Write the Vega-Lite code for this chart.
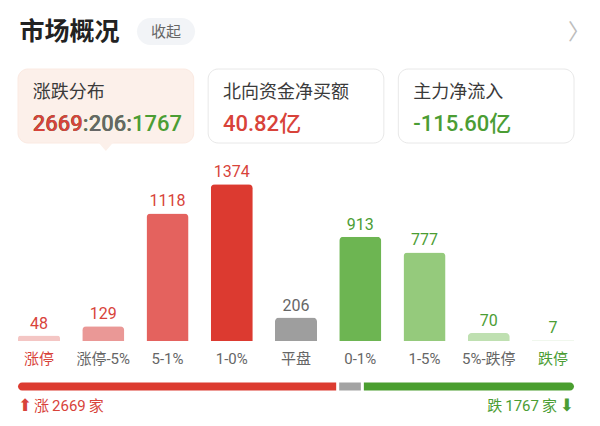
{
  "$schema": "https://vega.github.io/schema/vega-lite/v6.json",
  "background": "white",
  "padding": {"left": 17, "top": 18, "right": 17, "bottom": 4},
  "config": {
    "view": {"stroke": null},
    "font": "Roboto, 'Noto Sans CJK SC', sans-serif"
  },
  "datasets": {
    "dist": [
      {"range": "涨停", "count": 48, "side": "涨"},
      {"range": "涨停-5%", "count": 129, "side": "涨"},
      {"range": "5-1%", "count": 1118, "side": "涨"},
      {"range": "1-0%", "count": 1374, "side": "涨"},
      {"range": "平盘", "count": 206, "side": "平"},
      {"range": "0-1%", "count": 913, "side": "跌"},
      {"range": "1-5%", "count": 777, "side": "跌"},
      {"range": "5%-跌停", "count": 70, "side": "跌"},
      {"range": "跌停", "count": 7, "side": "跌"}
    ],
    "cards": [
      {"card": "涨跌分布"},
      {"card": "北向资金净买额"},
      {"card": "主力净流入"}
    ],
    "cardValues": [
      {"card": "涨跌分布", "text": "2669:206:1767", "sign": "跌"},
      {"card": "涨跌分布", "text": "2669:206:", "sign": "平"},
      {"card": "涨跌分布", "text": "2669", "sign": "涨"},
      {"card": "北向资金净买额", "text": "40.82亿", "sign": "涨"},
      {"card": "主力净流入", "text": "-115.60亿", "sign": "跌"}
    ],
    "summary": [
      {"side": "涨", "count": 2669, "rank": 1, "label": "涨\u20092669\u2009家", "arrow": "⬆"},
      {"side": "平", "count": 206, "rank": 2, "label": "平盘\u2009206\u2009家", "arrow": ""},
      {"side": "跌", "count": 1767, "rank": 3, "label": "跌\u20091767\u2009家", "arrow": "⬇"}
    ]
  },
  "resolve": {"scale": {"color": "independent", "fill": "independent", "stroke": "independent"}},
  "vconcat": [
    {
      "resolve": {"scale": {"color": "independent", "fill": "independent", "stroke": "independent"}},
      "vconcat": [
        {
          "hconcat": [
            {
              "hconcat": [
                {
                  "width": 103,
                  "height": 27,
                  "data": {"values": [{"t": "市场概况"}]},
                  "mark": {"type": "text", "fontSize": 25, "fontWeight": "bold", "color": "#222222", "baseline": "middle"},
                  "encoding": {"text": {"field": "t"}}
                },
                {
                  "width": 58,
                  "height": 27,
                  "view": {"fill": "#f2f4f7", "cornerRadius": 13.5, "stroke": null},
                  "data": {"values": [{"t": "收起"}]},
                  "mark": {"type": "text", "fontSize": 15, "color": "#666666", "baseline": "middle"},
                  "encoding": {"text": {"field": "t"}}
                }
              ],
              "spacing": 16
            },
            {
              "width": 20,
              "height": 27,
              "data": {"values": [{"t": "〉"}]},
              "mark": {"type": "text", "fontSize": 22, "color": "#bdbdbd", "baseline": "middle", "dx": 5},
              "encoding": {"text": {"field": "t"}}
            }
          ],
          "spacing": 369
        },
        {
          "width": 556,
          "height": 74,
          "layer": [
            {
              "data": {"name": "cards"},
              "mark": {"type": "bar", "cornerRadius": 10, "strokeWidth": 1},
              "encoding": {
                "x": {"field": "card", "type": "nominal", "sort": null, "scale": {"paddingInner": 0.076, "paddingOuter": 0}, "axis": null},
                "fill": {"field": "card", "type": "nominal", "sort": null, "scale": {"domain": ["涨跌分布", "北向资金净买额", "主力净流入"], "range": ["#fcf0ea", "#ffffff", "#ffffff"]}, "legend": null},
                "stroke": {"field": "card", "type": "nominal", "sort": null, "scale": {"domain": ["涨跌分布", "北向资金净买额", "主力净流入"], "range": ["#fbeae2", "#e8e8e8", "#e8e8e8"]}, "legend": null}
              }
            },
            {
              "data": {"name": "cards"},
              "transform": [{"filter": "datum.card === '涨跌分布'"}],
              "mark": {"type": "point", "shape": "M-1,-0.15L1,-0.15L0,1Z", "size": 256, "filled": true, "opacity": 1, "strokeWidth": 0, "y": "height"},
              "encoding": {
                "x": {"field": "card", "type": "nominal", "sort": null},
                "fill": {"field": "card", "type": "nominal", "sort": null}
              }
            },
            {
              "data": {"name": "cards"},
              "mark": {"type": "text", "align": "left", "baseline": "middle", "dx": -73, "dy": 2.5, "fontSize": 18, "color": "#3a3a3a"},
              "encoding": {
                "x": {"field": "card", "type": "nominal", "sort": null},
                "y": {"datum": "label", "type": "nominal", "scale": {"type": "point", "domain": ["label", "value"], "padding": 0.7}, "axis": null},
                "text": {"field": "card"}
              }
            },
            {
              "data": {"name": "cardValues"},
              "mark": {"type": "text", "align": "left", "baseline": "middle", "dx": -73, "dy": 2.5, "fontSize": 22, "fontWeight": 500},
              "encoding": {
                "x": {"field": "card", "type": "nominal", "sort": null},
                "y": {"datum": "value", "type": "nominal"},
                "text": {"field": "text"},
                "color": {"field": "sign", "type": "nominal", "scale": {"domain": ["涨", "平", "跌"], "range": ["#d8433a", "#666666", "#4b9d34"]}, "legend": null}
              }
            }
          ]
        }
      ],
      "spacing": 23
    },
    {
      "resolve": {"scale": {"color": "independent", "fill": "independent", "stroke": "independent"}},
      "vconcat": [
        {
          "width": 556,
          "height": 185,
          "data": {"name": "dist"},
          "encoding": {
            "x": {
              "field": "range",
              "type": "nominal",
              "sort": null,
              "scale": {"paddingInner": 0.346, "paddingOuter": 0},
              "axis": {
                "title": null,
                "domain": false,
                "ticks": false,
                "tickSize": 0,
                "grid": false,
                "labelAngle": 0,
                "labelPadding": 10,
                "labelFontSize": 15,
                "labelColor": {"expr": "datum.value === '涨停' ? '#d8433a' : datum.value === '跌停' ? '#4b9d34' : '#666666'"}
              }
            }
          },
          "layer": [
            {
              "mark": {"type": "bar", "cornerRadiusTopLeft": 4, "cornerRadiusTopRight": 4},
              "encoding": {
                "y": {"field": "count", "type": "quantitative", "scale": {"domain": [0, 1622], "nice": false}, "axis": null},
                "color": {
                  "field": "range",
                  "type": "nominal",
                  "sort": null,
                  "scale": {
                    "domain": ["涨停", "涨停-5%", "5-1%", "1-0%", "平盘", "0-1%", "1-5%", "5%-跌停", "跌停"],
                    "range": ["#f4c6c4", "#ea9896", "#e4625e", "#dc3a30", "#9e9e9e", "#6db552", "#95ca7c", "#bfe0b1", "#dcecd4"]
                  },
                  "legend": null
                }
              }
            },
            {
              "mark": {"type": "text", "baseline": "alphabetic", "dy": -7, "fontSize": 16},
              "encoding": {
                "y": {"field": "count", "type": "quantitative"},
                "text": {"field": "count", "type": "quantitative"},
                "color": {"field": "side", "type": "nominal", "scale": {"domain": ["涨", "平", "跌"], "range": ["#d8433a", "#666666", "#4b9d34"]}, "legend": null}
              }
            }
          ],
          "resolve": {"scale": {"color": "independent"}}
        },
        {
          "width": 556,
          "height": 8,
          "data": {"name": "summary"},
          "transform": [
            {"stack": "count", "groupby": [], "sort": [{"field": "rank", "order": "ascending"}], "as": ["c0", "c1"]}
          ],
          "layer": [
            {
              "mark": {
                "type": "bar",
                "xOffset": {"expr": "datum.side === '涨' ? 0 : 1.5"},
                "x2Offset": {"expr": "datum.side === '跌' ? 0 : -1.5"},
                "cornerRadiusTopLeft": {"expr": "datum.side === '涨' ? 4 : 0"},
                "cornerRadiusBottomLeft": {"expr": "datum.side === '涨' ? 4 : 0"},
                "cornerRadiusTopRight": {"expr": "datum.side === '跌' ? 4 : 0"},
                "cornerRadiusBottomRight": {"expr": "datum.side === '跌' ? 4 : 0"}
              },
              "encoding": {
                "x": {"field": "c0", "type": "quantitative", "scale": {"domain": [0, 4642], "nice": false, "zero": false}, "axis": null},
                "x2": {"field": "c1"},
                "y": {"datum": "bar", "type": "nominal", "scale": {"type": "band", "paddingInner": 0, "paddingOuter": 0}, "axis": null},
                "fill": {"field": "side", "type": "nominal", "scale": {"domain": ["涨", "平", "跌"], "range": ["#dc3b30", "#a3a3a3", "#4a9e2f"]}, "legend": null}
              }
            },
            {
              "transform": [{"filter": "datum.side === '涨'"}],
              "mark": {"type": "text", "align": "left", "baseline": "middle", "y": "height", "dy": 15.5, "dx": 0, "fontSize": 17, "font": "DejaVu Sans"},
              "encoding": {
                "x": {"field": "c0", "type": "quantitative"},
                "text": {"field": "arrow"},
                "color": {"field": "side", "type": "nominal", "scale": {"domain": ["涨", "平", "跌"], "range": ["#d8433a", "#888888", "#4b9d34"]}, "legend": null}
              }
            },
            {
              "transform": [{"filter": "datum.side === '涨'"}],
              "mark": {"type": "text", "align": "left", "baseline": "middle", "y": "height", "dy": 15.5, "dx": 16, "fontSize": 15},
              "encoding": {
                "x": {"field": "c0", "type": "quantitative"},
                "text": {"field": "label"},
                "color": {"field": "side", "type": "nominal"}
              }
            },
            {
              "transform": [{"filter": "datum.side === '跌'"}],
              "mark": {"type": "text", "align": "right", "baseline": "middle", "y": "height", "dy": 15.5, "dx": 0, "fontSize": 17, "font": "DejaVu Sans"},
              "encoding": {
                "x": {"field": "c1", "type": "quantitative"},
                "text": {"field": "arrow"},
                "color": {"field": "side", "type": "nominal"}
              }
            },
            {
              "transform": [{"filter": "datum.side === '跌'"}],
              "mark": {"type": "text", "align": "right", "baseline": "middle", "y": "height", "dy": 15.5, "dx": -17, "fontSize": 15},
              "encoding": {
                "x": {"field": "c1", "type": "quantitative"},
                "text": {"field": "label"},
                "color": {"field": "side", "type": "nominal"}
              }
            }
          ]
        }
      ],
      "spacing": 16.5
    }
  ],
  "spacing": 5
}
